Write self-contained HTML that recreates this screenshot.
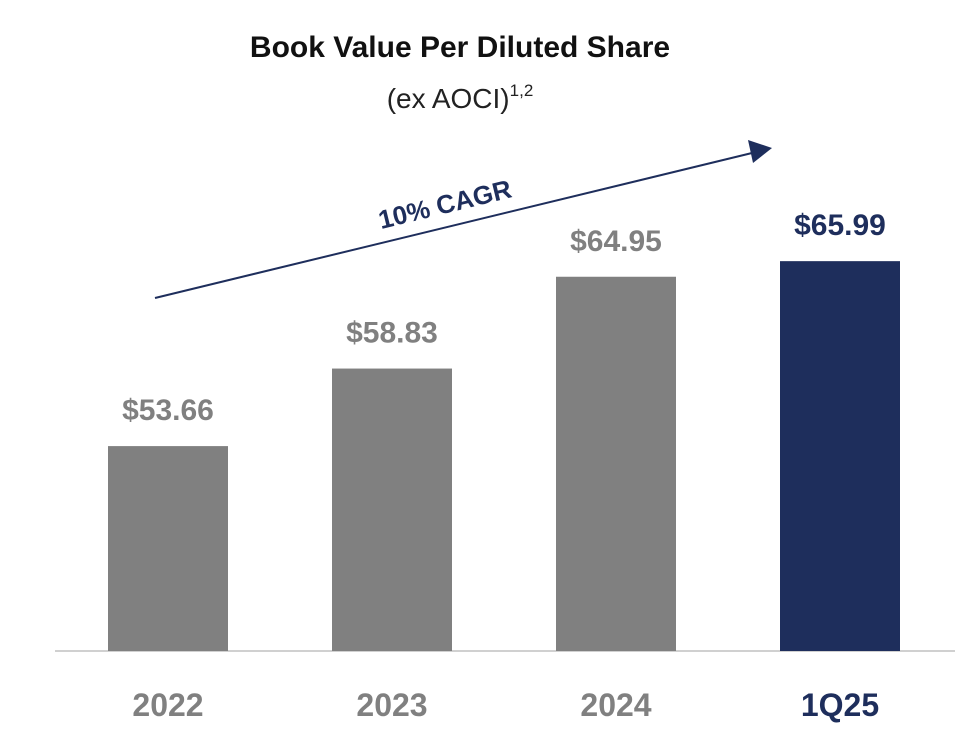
<!DOCTYPE html>
<html><head><meta charset="utf-8"><style>
html,body{margin:0;padding:0;background:#fff;}
svg{display:block;font-family:"Liberation Sans",sans-serif;}
</style></head><body>
<svg id="chart" width="975" height="738" viewBox="0 0 975 738">
<text x="460" y="57" text-anchor="middle" font-size="30" font-weight="bold" fill="#111">Book Value Per Diluted Share</text>
<text x="460" y="108" text-anchor="middle" font-size="28" fill="#222">(ex AOCI)<tspan font-size="17" dy="-12">1,2</tspan></text>
<line x1="55" y1="651" x2="955" y2="651" stroke="#d0d0d0" stroke-width="2"/>
<g id="bars"></g>
<line x1="155" y1="298" x2="752" y2="153" stroke="#1e2e5c" stroke-width="2"/>
<polygon points="772,148 748,140 753,163" fill="#1e2e5c"/>
<text x="447" y="213" text-anchor="middle" font-size="26" font-weight="bold" fill="#1e2e5c" transform="rotate(-13.7 447 213)">10% CAGR</text>
</svg>
<script>
const categories=["2022","2023","2024","1Q25"];
const values=[53.66,58.83,64.95,65.99];
const labels=["$53.66","$58.83","$64.95","$65.99"];
const yMin=40, yMax=70;
const baseY=651, pxPerUnit=15.0;
function yScale(v){return baseY-(v-yMin)*pxPerUnit;}
function xCenter(i){return 168+i*224;}
const g=document.getElementById('bars');
const ns="http://www.w3.org/2000/svg";
categories.forEach((c,i)=>{
  const last=i===categories.length-1;
  const col=last?"#1e2e5c":"#808080";
  const r=document.createElementNS(ns,'rect');
  
  
  const y=yScale(values[i]);
  r.setAttribute('x',xCenter(i)-60);r.setAttribute('width',120);
  r.setAttribute('y',y);r.setAttribute('height',baseY-y);
  r.setAttribute('fill',col);g.appendChild(r);
  const t=document.createElementNS(ns,'text');
  
  
  t.setAttribute('x',xCenter(i));t.setAttribute('y',y-26);
  t.setAttribute('text-anchor','middle');t.setAttribute('font-size','30');
  t.setAttribute('font-weight','bold');t.setAttribute('fill',col);
  t.textContent=labels[i];g.appendChild(t);
  const l=document.createElementNS(ns,'text');
  
  
  l.setAttribute('x',xCenter(i));l.setAttribute('y',716);
  l.setAttribute('text-anchor','middle');l.setAttribute('font-size','32');
  l.setAttribute('font-weight','bold');l.setAttribute('fill',col);
  l.textContent=c;g.appendChild(l);
});
</script>
</body></html>
